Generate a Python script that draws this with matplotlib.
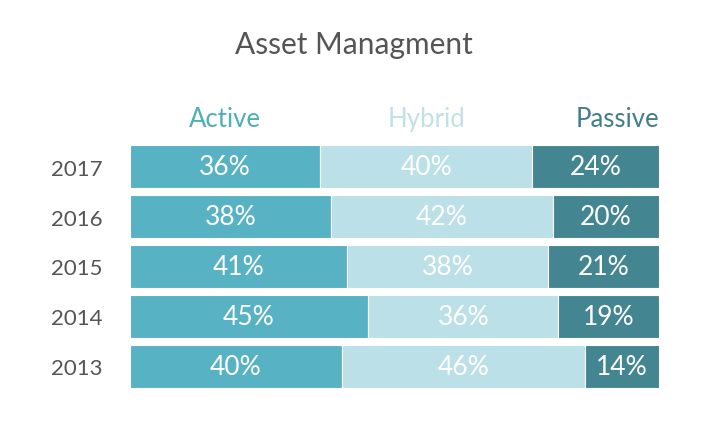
import matplotlib
matplotlib.use("Agg")
import matplotlib.pyplot as plt
import numpy as np

years = ["2017", "2016", "2015", "2014", "2013"]
active = [36, 38, 41, 45, 40]
hybrid = [40, 42, 38, 36, 46]
passive = [24, 20, 21, 19, 14]
series_names = ["Active", "Hybrid", "Passive"]

c_active = "#57B2C3"
c_hybrid = "#BBE0E7"
c_passive = "#438691"
h_active = "#4DAFBA"
h_hybrid = "#BFE1E7"
h_passive = "#3F7F8A"

plt.rcParams['font.family'] = ['Lato', 'DejaVu Sans']
LW = 'normal'

fig = plt.figure(figsize=(7.05, 4.39), dpi=100)
W, H = 705, 439
ax = fig.add_axes([130 / W, 1 - 392 / H, (659 - 130) / W, (392 - 143) / H])

y = np.arange(len(years))
bh = 0.86
left = np.zeros(len(years))
for vals, col in [(active, c_active), (hybrid, c_hybrid), (passive, c_passive)]:
    vals = np.array(vals, dtype=float)
    ax.barh(y, vals, left=left, height=bh, color=col, edgecolor='white', linewidth=0.8)
    for yi, (l, v) in enumerate(zip(left, vals)):
        ax.text(l + v / 2, yi, f"{int(v)}%", ha='center', va='center',
                color='white', fontsize=19, fontweight=LW)
    left = left + vals

ax.set_xlim(0, 100)
ax.set_ylim(len(years) - 0.5, -0.5)
ax.set_yticks(y)
ax.set_yticklabels(years, fontsize=16, color='#555555', fontweight=LW)
ax.tick_params(axis='y', length=0, pad=20)
ax.set_xticks([])
for s in ax.spines.values():
    s.set_visible(False)

# header labels
ax.text(18, -0.97, series_names[0], ha='center', va='center', fontsize=18.5, color=h_active)
ax.text(56, -0.97, series_names[1], ha='center', va='center', fontsize=18.5, color=h_hybrid)
ax.text(100, -0.97, series_names[2], ha='right', va='center', fontsize=18.5, color=h_passive)

fig.text(354 / W, 1 - 45 / H, "Asset Managment", ha='center', va='center',
         fontsize=21.5, color='#555555', fontweight=LW)

fig.savefig("out.png", dpi=100, facecolor='white')
